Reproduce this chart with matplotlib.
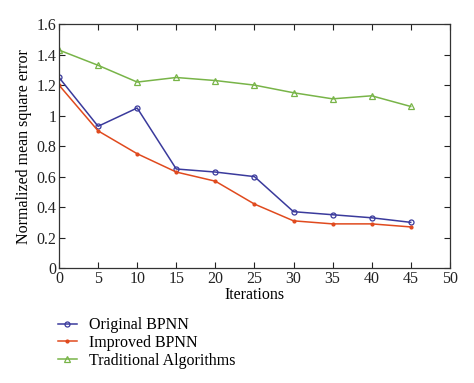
import matplotlib
matplotlib.use("Agg")
import matplotlib.pyplot as plt

iterations = [0, 5, 10, 15, 20, 25, 30, 35, 40, 45]
original_bpnn = [1.25, 0.93, 1.05, 0.65, 0.63, 0.60, 0.37, 0.35, 0.33, 0.30]
improved_bpnn = [1.20, 0.90, 0.75, 0.63, 0.57, 0.42, 0.31, 0.29, 0.29, 0.27]
traditional = [1.43, 1.33, 1.22, 1.25, 1.23, 1.20, 1.15, 1.11, 1.13, 1.06]

x_ticks = [0, 5, 10, 15, 20, 25, 30, 35, 40, 45, 50]
y_ticks = [0, 0.2, 0.4, 0.6, 0.8, 1.0, 1.2, 1.4, 1.6]
y_labels = ["0", "0.2", "0.4", "0.6", "0.8", "1", "1.2", "1.4", "1.6"]

plt.rcParams['font.family'] = ['Liberation Serif', 'DejaVu Serif']

fig = plt.figure(figsize=(4.74, 3.83), dpi=100)
ax = fig.add_axes([0.1245, 0.300, 0.8245, 0.637])

l1, = ax.plot(iterations, original_bpnn, color='#3a3a9c', lw=1.1, marker='o',
              ms=3.6, mfc='none', mew=0.9, label="Original BPNN")
l2, = ax.plot(iterations, improved_bpnn, color='#e04a1e', lw=1.1, marker='o',
              ms=2.0, label="Improved BPNN")
l3, = ax.plot(iterations, traditional, color='#78b448', lw=1.1, marker='^',
              ms=3.8, mfc='none', mew=0.9, label="Traditional Algorithms")

ax.set_xlim(0, 50)
ax.set_ylim(0, 1.6)
ax.set_xticks(x_ticks)
ax.set_yticks(y_ticks)
ax.set_yticklabels(y_labels)
ax.tick_params(direction='in', top=True, right=True, labelsize=11.5,
               length=4, width=0.8, colors='#222222', pad=2)
for s in ax.spines.values():
    s.set_linewidth(0.9)
    s.set_color('#333333')

ax.set_xlabel("Iterations", fontsize=11.5, labelpad=0)
ax.set_ylabel("Normalized mean square error", fontsize=11.5, labelpad=3)

fig.legend(handles=[l1, l2, l3], loc='upper left', bbox_to_anchor=(0.122, 0.172),
           frameon=False, fontsize=11.5, handlelength=1.2, handletextpad=0.75,
           labelspacing=0.12, borderaxespad=0, borderpad=0)

fig.savefig("out.png", dpi=100)
